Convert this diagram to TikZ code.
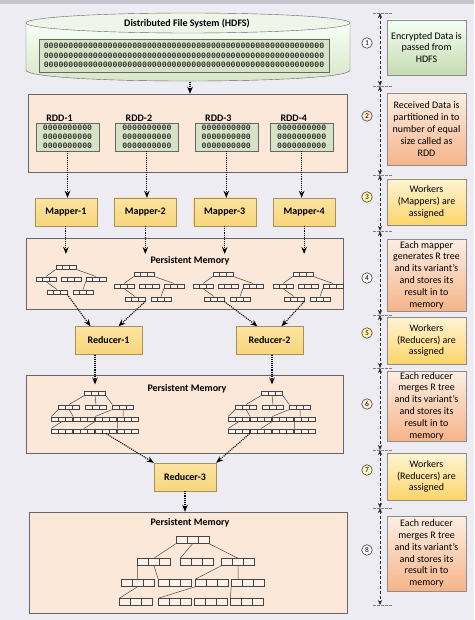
\documentclass[tikz,border=0pt]{standalone}
\usepackage{fontspec}
\setmainfont{Carlito}
\setmonofont{Liberation Mono}
\usetikzlibrary{arrows.meta,matrix,calc,positioning}
\tikzset{>={Stealth[length=7pt,width=5.5pt]}}

\definecolor{bgcol}{HTML}{EDECF2}
\definecolor{bandcol}{HTML}{C6C5CE}
\definecolor{edgecol}{HTML}{666666}
\definecolor{peach}{HTML}{FCE8D9}
\definecolor{datagreen}{HTML}{D6E2C5}
\definecolor{treecol}{HTML}{454545}
\definecolor{goldtop}{HTML}{FBE3A0}
\definecolor{goldbot}{HTML}{F8D67C}
\definecolor{golddark}{HTML}{A8915A}

\newcommand{\zrow}{0000000000}
\newcommand{\zlong}{\zrow\zrow\zrow\zrow\zrow0000000}

\tikzset{
  rtcells/.style={draw=treecol, line width=0.5pt, inner sep=0pt, fill=white!45!peach,
    path picture={
      \draw[treecol, line width=0.5pt]
        ($(path picture bounding box.north west)!1/3!(path picture bounding box.north east)$) --
        ($(path picture bounding box.south west)!1/3!(path picture bounding box.south east)$)
        ($(path picture bounding box.north west)!2/3!(path picture bounding box.north east)$) --
        ($(path picture bounding box.south west)!2/3!(path picture bounding box.south east)$);}},
  rtA/.style={rtcells, minimum width=20pt, minimum height=4.5pt},
  rtB/.style={rtcells, minimum width=21pt, minimum height=4.5pt},
  rtC/.style={rtcells, minimum width=33pt, minimum height=7pt}
}

\begin{document}
\begin{tikzpicture}[x=1pt,y=-1pt,font=\fontsize{10}{12}\selectfont]

\tikzstyle{lab}=[font=\bfseries\fontsize{10}{12}\selectfont, inner sep=1pt]
\tikzstyle{membox}=[draw=edgecol, fill=peach, inner sep=0pt]
\tikzstyle{rddbox}=[draw=edgecol, fill=datagreen, minimum width=63pt, minimum height=28pt,
  inner sep=0pt, align=center, font=\ttfamily\bfseries\fontsize{8.2}{8.8}\selectfont, text=black!80]
\tikzstyle{workbox}=[draw=golddark, top color=goldtop, bottom color=goldbot, minimum height=28pt,
  inner sep=0pt, font=\bfseries\fontsize{10}{12}\selectfont]
\tikzstyle{dar}=[->, densely dotted, line width=1.1pt]
\tikzstyle{tl}=[draw=treecol, line width=0.5pt]
\tikzstyle{note}=[draw=black!45, minimum width=79pt, inner sep=0pt, align=center,
  font=\fontsize{10}{11.8}\selectfont]
\tikzstyle{noteg}=[note, top color=green!4!white, bottom color={rgb,255:red,197;green,219;blue,176}]
\tikzstyle{noteo}=[note, top color={rgb,255:red,253;green,238;blue,227}, bottom color={rgb,255:red,245;green,180;blue,138}]
\tikzstyle{notey}=[note, top color={rgb,255:red,255;green,245;blue,212}, bottom color={rgb,255:red,253;green,212;blue,106}]
\tikzstyle{num}=[circle, draw=black!75, line width=0.6pt, minimum size=10.5pt, inner sep=0pt,
  font=\fontsize{7.5}{8}\selectfont]
\tikzstyle{sepline}=[draw=black!50, dash pattern=on 2.5pt off 1.5pt]
\tikzstyle{spanarr}=[{Stealth[length=5pt,width=4pt]}-{Stealth[length=5pt,width=4pt]}, black!85, dash pattern=on 3pt off 2pt]

\useasboundingbox (0,0) rectangle (474,620);
\fill[bgcol] (0,0) rectangle (474,620);
\fill[bandcol] (0,0) rectangle (474,4);

% HDFS
\draw[edgecol, top color=green!3!white, bottom color={rgb,255:red,214;green,228;blue,196}]
  (26,23) -- (26,70) .. controls (26,84.7) and (350,84.7) .. (350,70) -- (350,23) -- cycle;
\draw[edgecol, fill={rgb,255:red,240;green,245;blue,233}] (188,23) ellipse [x radius=162pt, y radius=10pt];
\node[lab] (hdfs) at (187,24) {Distributed File System (HDFS)};
\node[draw=edgecol, fill=datagreen, minimum width=290pt, minimum height=33pt, inner sep=0pt, align=center,
  font=\ttfamily\bfseries\fontsize{8.2}{9.5}\selectfont, text=black!80] (hdfsdata) at (184,55.5) {\zlong\\\zlong\\\zlong};
\coordinate (hdfsout) at (190,82);

% RDD partitions
\node[membox, minimum width=319pt, minimum height=78pt] (part) at (187.5,133) {};
\draw[dar] (hdfsout) -- (hdfsout |- part.north);

\node[rddbox] (rdd1) at (67.5,137) {\zrow\\\zrow\\\zrow};
\node[rddbox, right=16pt of rdd1] (rdd2) {\zrow\\\zrow\\\zrow};
\node[rddbox, right=16pt of rdd2] (rdd3) {\zrow\\\zrow\\\zrow};
\node[rddbox, right=12pt of rdd3] (rdd4) {\zrow\\\zrow\\\zrow};
\foreach \i in {1,...,4}
  \node[lab, above=0pt of rdd\i, xshift=-8pt] (rddl\i) {RDD-\i};

% mappers
\matrix (mp) [matrix of nodes, column sep=17pt, nodes={workbox, minimum width=62pt}] at (185,212)
 {
   Mapper-1 & Mapper-2 & Mapper-3 & Mapper-4 \\
 };
\foreach \i in {1,...,4}
  \draw[dar] (rdd\i.south) -- (rdd\i.south |- mp-1-\i.north);

\node[membox, minimum width=317pt, minimum height=71pt] (pm1) at (184.5,273.5) {};
\node[lab] (pm1l) at (190,261) {Persistent Memory};
\coordinate (pm1in) at (0,254);
\foreach \i in {1,...,4}
  \draw[dar] (mp-1-\i) -- (mp-1-\i |- pm1in);

\foreach \i/\b/\y in {1/71/267,2/149/274,3/228/274,4/308/274}{
  \node[rtA] (t\i-r) at (\b-5,\y) {};
  \node[rtA] (t\i-a) at (\b-25,\y+12) {};
  \node[rtA] (t\i-b) at (\b,\y+12) {};
  \node[rtA] (t\i-c) at (\b+25,\y+12) {};
  \node[rtA] (t\i-d) at (\b-14,\y+25) {};
  \node[rtA] (t\i-e) at (\b+12,\y+25) {};
  \draw[tl] (t\i-r.south west) -- (t\i-a.north) (t\i-r.south east) -- (t\i-c.north)
    (t\i-a.south) -- (t\i-d.north) (t\i-c.south west) -- (t\i-e.north);
}

% reducers
\node[workbox, minimum width=67pt] (red1) at (108.5,340.5) {Reducer-1};
\node[workbox, minimum width=67pt] (red2) at (269.5,340.5) {Reducer-2};
\draw[dar] (t1-d.south east) -- ([xshift=-18pt]red1.north);
\draw[dar] (t2-d.south east) -- ([xshift=10pt]red1.north);
\draw[dar] (t3-d.south east) -- ([xshift=-12pt]red2.north);
\draw[dar] (t4-d.south east) -- ([xshift=12pt]red2.north);

\node[membox, minimum width=317pt, minimum height=78pt] (pm2) at (184.5,414) {};
\node[lab] (pm2l) at (187,389) {Persistent Memory};

\foreach \i/\R in {1/95,2/272}{
  \node[rtB] (u\i-r) at (\R,393) {};
  \node[rtB] (u\i-a) at (\R-26,407) {};
  \node[rtB] (u\i-b) at (\R+1,407) {};
  \node[rtB] (u\i-c) at (\R+28,407) {};
  \node[rtB] (u\i-d) at (\R-33,419) {};
  \node[rtB] (u\i-e) at (\R-11,419) {};
  \node[rtB] (u\i-f) at (\R+11,419) {};
  \node[rtB] (u\i-g) at (\R+33,419) {};
  \node[rtB] (u\i-h) at (\R-33,431) {};
  \node[rtB] (u\i-i) at (\R-11,431) {};
  \node[rtB] (u\i-j) at (\R+11,431) {};
  \node[rtB] (u\i-k) at (\R+33,431) {};
  \draw[tl] (u\i-r.south west) -- (u\i-a.north) (u\i-r.south) -- (u\i-b.north)
    (u\i-r.south east) -- (u\i-c.north west)
    (u\i-a.south west) -- (u\i-d.north west) (u\i-a.south) -- (u\i-e.north west)
    (u\i-c.south west) -- (u\i-f.north west) (u\i-c.south) -- (u\i-c.south |- u\i-g.north)
    (u\i-d.south) -- (u\i-h.north west) (u\i-f.south west) -- (u\i-i.north)
    (u\i-g.south west) -- (u\i-k.north west);
}
\draw[dar, shorten >=6pt] (u1-r.north |- red1.south) -- (u1-r.north);
\draw[dar, shorten >=6pt] (u2-r.north |- red2.south) -- (u2-r.north);

\node[workbox, minimum width=62pt] (red3) at (185,477) {Reducer-3};
\draw[dar] (u1-j.south) -- (red3.north west);
\draw[dar] (u2-h.south east) -- (red3.north east);

\node[membox, minimum width=318pt, minimum height=101pt] (pm3) at (188,562.5) {};
\node[lab] (pm3l) at (190,523) {Persistent Memory};
\draw[dar] (red3) -- (red3 |- pm3.north);

\node[rtC] (v-r) at (192.5,540) {};
\node[rtC] (v-a) at (154,562) {};
\node[rtC] (v-b) at (197,562) {};
\node[rtC] (v-c) at (238,562) {};
\node[rtC] (v-d) at (137.5,583) {};
\node[rtC] (v-e) at (175,583) {};
\node[rtC] (v-f) at (212,583) {};
\node[rtC] (v-g) at (248,583) {};
\node[rtC] (v-h) at (136,602) {};
\node[rtC] (v-i) at (175,602) {};
\node[rtC] (v-j) at (211,602) {};
\node[rtC] (v-k) at (247,602) {};
\draw[tl] (v-r.south west) -- (v-a.north) (v-r.south) -- (v-b.north west) (v-r.south east) -- (v-c.north)
  (v-a.south west) -- (v-d.north) (v-a.south) -- (v-e.north west)
  (v-c.south west) -- (v-f.north west) (v-c.south) -- (v-c.south |- v-g.north)
  (v-d.south) -- (v-h.north west) (v-f.south west) -- (v-i.north west) (v-g.south west) -- (v-k.north west);

% steps on the right
\foreach \k/\y in {0/13,1/86,2/175,3/231,4/315,5/368,6/450,7/508,8/605}{
  \coordinate (mk\k) at (380,\y);
  \draw[sepline] ([xshift=-7pt]mk\k) -- ([xshift=13pt]mk\k);
}
\foreach \a/\b in {0/1,1/2,2/3,3/4,4/5,5/6,6/7,7/8}
  \draw[spanarr] (mk\a) -- (mk\b);

\node[noteg, minimum height=55pt] (note1) at (426.5,47.5) {Encrypted Data is\\passed from\\HDFS};
\node[noteo, minimum height=72pt] (note2) at (426.5,129) {Received Data is\\partitioned in to\\number of equal\\size called as\\RDD};
\node[notey, minimum height=46pt] (note3) at (426.5,202) {Workers\\(Mappers) are\\assigned};
\node[noteo, minimum height=72pt] (note4) at (426.5,275) {Each mapper\\generates R tree\\and its variant's\\and stores its\\result in to\\memory};
\node[notey, minimum height=47pt] (note5) at (426.5,340.5) {Workers\\(Reducers) are\\assigned};
\node[noteo, minimum height=70pt] (note6) at (426.5,406) {Each reducer\\merges R tree\\and its variant's\\and stores its\\result in to\\memory};
\node[notey, minimum height=47pt] (note7) at (426.5,476.5) {Workers\\(Reducers) are\\assigned};
\node[noteo, minimum height=75pt] (note8) at (426.5,553.5) {Each reducer\\merges R tree\\and its variant's\\and stores its\\result in to\\memory};

\foreach \n/\y/\c in {1/43/white, 2/116/orange!20, 3/197/yellow!35, 4/278/orange!6,
                      5/333/yellow!35, 6/404/orange!15, 7/470/yellow!25, 8/550/white}
  \node[num, fill=\c] (num\n) at (367,\y) {\n};

\end{tikzpicture}
\end{document}
